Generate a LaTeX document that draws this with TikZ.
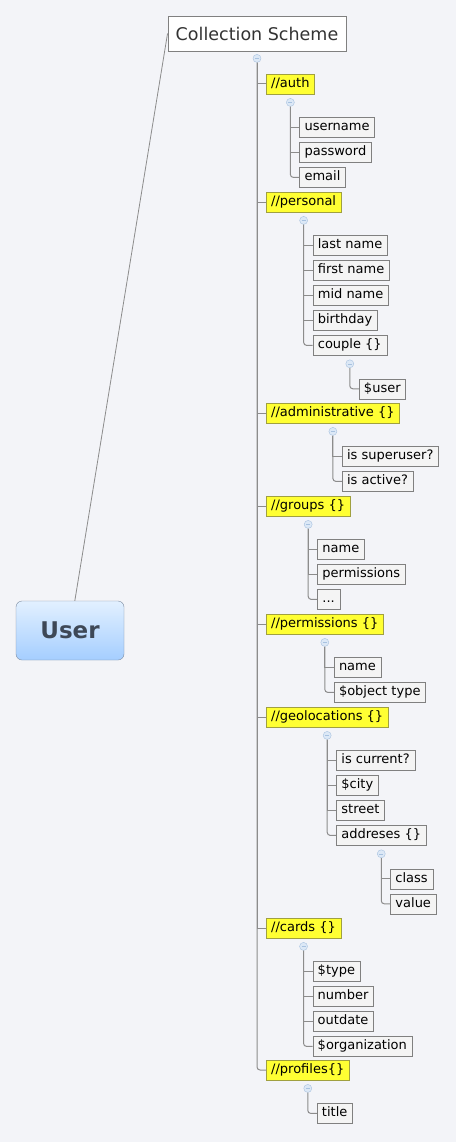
\documentclass[tikz,border=0pt]{standalone}
\usepackage{fontspec}
\setmainfont{DejaVu Sans}
\usetikzlibrary{calc,positioning}
\definecolor{bgcol}{HTML}{F3F4F8}
\definecolor{linecol}{HTML}{8C8C8C}
\definecolor{leafcol}{HTML}{F4F4F4}
\definecolor{leafbd}{HTML}{808080}
\definecolor{topiccol}{HTML}{FFFF33}
\definecolor{topicbd}{HTML}{A0A040}
\definecolor{togcol}{HTML}{DCE8F6}
\definecolor{togbd}{HTML}{A8C2E0}
\definecolor{usertop}{HTML}{E2F0FF}
\definecolor{userbot}{HTML}{A5CEFF}
\definecolor{userbd}{HTML}{7D8CA0}
\definecolor{usertxt}{HTML}{3E4857}
\tikzstyle{leaf}=[shape=rectangle, draw=leafbd, fill=leafcol, anchor=west, minimum height=20pt, inner xsep=5pt, inner ysep=0pt, text height=9.5pt, text depth=3pt, font=\fontsize{13}{15}\selectfont]
\tikzstyle{topic}=[leaf, draw=topicbd, fill=topiccol]
\tikzstyle{tog}=[shape=circle, draw=togbd, fill=togcol, minimum size=8pt, inner sep=0pt, path picture={\draw[togbd] ([xshift=-2pt]path picture bounding box.center) -- ([xshift=2pt]path picture bounding box.center);}]
\tikzstyle{br}=[draw=linecol, line width=1pt]
\tikzstyle{brend}=[br, rounded corners=3pt]

\begin{document}
\begin{tikzpicture}[x=1pt,y=-1pt]
\fill[bgcol] (0,0) rectangle (456,1142);

\node (scheme) [shape=rectangle, draw=leafbd, fill=white, minimum height=35pt, inner xsep=8pt, text=black!80, font=\fontsize{17.5}{20}\selectfont] at (257,33.5) {Collection Scheme};
\node (user) [shape=rectangle, rounded corners=6pt, draw=userbd, top color=usertop, bottom color=userbot, minimum width=108pt, minimum height=59pt, text=usertxt, font=\fontsize{23}{26}\selectfont\bfseries] at (70,630.5) {User};
\draw[linecol, line width=0.8pt] (user) -- (scheme.west);

\node (c0) [tog, below=3pt of scheme] {};

% topics
\node (auth) [topic] at (266,84) {//auth};
\node (personal) [topic] at (266,202) {//personal};
\node (admin) [topic] at (266,413) {//administrative \{\}};
\node (groups) [topic] at (266,506) {//groups \{\}};
\node (perms) [topic] at (266,624) {//permissions \{\}};
\node (geo) [topic] at (266,717) {//geolocations \{\}};
\node (cards) [topic] at (266,928) {//cards \{\}};
\node (profiles) [topic] at (266,1070) {//profiles\{\}};

\draw[br] (c0) |- (auth.west);
\draw[br] (c0) |- (personal.west);
\draw[br] (c0) |- (admin.west);
\draw[br] (c0) |- (groups.west);
\draw[br] (c0) |- (perms.west);
\draw[br] (c0) |- (geo.west);
\draw[br] (c0) |- (cards.west);
\draw[brend] (c0) |- (profiles.west);

% auth
\node (cau) [tog, below=4pt of auth] {};
\node (au1) [leaf] at ($(cau)+(9,25)$) {username};
\node (au2) [leaf] at ($(cau)+(9,50)$) {password};
\node (au3) [leaf] at ($(cau)+(9,75)$) {email};
\draw[br] (cau) |- (au1.west);
\draw[br] (cau) |- (au2.west);
\draw[brend] (cau) |- (au3.west);

% personal
\node (cpe) [tog, below=4pt of personal] {};
\node (pe1) [leaf] at ($(cpe)+(9,25)$) {last name};
\node (pe2) [leaf] at ($(cpe)+(9,50)$) {first name};
\node (pe3) [leaf] at ($(cpe)+(9,75)$) {mid name};
\node (pe4) [leaf] at ($(cpe)+(9,100)$) {birthday};
\node (pe5) [leaf] at ($(cpe)+(9,125)$) {couple \{\}};
\draw[br] (cpe) |- (pe1.west);
\draw[br] (cpe) |- (pe2.west);
\draw[br] (cpe) |- (pe3.west);
\draw[br] (cpe) |- (pe4.west);
\draw[brend] (cpe) |- (pe5.west);
\node (cco) [tog, below=4pt of pe5] {};
\node (co1) [leaf] at ($(cco)+(9,25)$) {\$user};
\draw[brend] (cco) |- (co1.west);

% administrative
\node (cad) [tog, below=4pt of admin] {};
\node (ad1) [leaf] at ($(cad)+(9,25)$) {is superuser?};
\node (ad2) [leaf] at ($(cad)+(9,50)$) {is active?};
\draw[br] (cad) |- (ad1.west);
\draw[brend] (cad) |- (ad2.west);

% groups
\node (cgr) [tog, below=4pt of groups] {};
\node (gr1) [leaf] at ($(cgr)+(9,25)$) {name};
\node (gr2) [leaf] at ($(cgr)+(9,50)$) {permissions};
\node (gr3) [leaf] at ($(cgr)+(9,75)$) {...};
\draw[br] (cgr) |- (gr1.west);
\draw[br] (cgr) |- (gr2.west);
\draw[brend] (cgr) |- (gr3.west);

% permissions
\node (cpm) [tog, below=4pt of perms] {};
\node (pm1) [leaf] at ($(cpm)+(9,25)$) {name};
\node (pm2) [leaf] at ($(cpm)+(9,50)$) {\$object type};
\draw[br] (cpm) |- (pm1.west);
\draw[brend] (cpm) |- (pm2.west);

% geolocations
\node (cge) [tog, below=4pt of geo] {};
\node (ge1) [leaf] at ($(cge)+(9,25)$) {is current?};
\node (ge2) [leaf] at ($(cge)+(9,50)$) {\$city};
\node (ge3) [leaf] at ($(cge)+(9,75)$) {street};
\node (ge4) [leaf] at ($(cge)+(9,100)$) {addreses \{\}};
\draw[br] (cge) |- (ge1.west);
\draw[br] (cge) |- (ge2.west);
\draw[br] (cge) |- (ge3.west);
\draw[brend] (cge) |- (ge4.west);
\node (cad2) [tog, below=4pt of ge4] {};
\node (ar1) [leaf] at ($(cad2)+(9,25)$) {class};
\node (ar2) [leaf] at ($(cad2)+(9,50)$) {value};
\draw[br] (cad2) |- (ar1.west);
\draw[brend] (cad2) |- (ar2.west);

% cards
\node (cca) [tog, below=4pt of cards] {};
\node (ca1) [leaf] at ($(cca)+(9,25)$) {\$type};
\node (ca2) [leaf] at ($(cca)+(9,50)$) {number};
\node (ca3) [leaf] at ($(cca)+(9,75)$) {outdate};
\node (ca4) [leaf] at ($(cca)+(9,100)$) {\$organization};
\draw[br] (cca) |- (ca1.west);
\draw[br] (cca) |- (ca2.west);
\draw[br] (cca) |- (ca3.west);
\draw[brend] (cca) |- (ca4.west);

% profiles
\node (cpr) [tog, below=4pt of profiles] {};
\node (pr1) [leaf] at ($(cpr)+(9,25)$) {title};
\draw[brend] (cpr) |- (pr1.west);

\end{tikzpicture}
\end{document}
